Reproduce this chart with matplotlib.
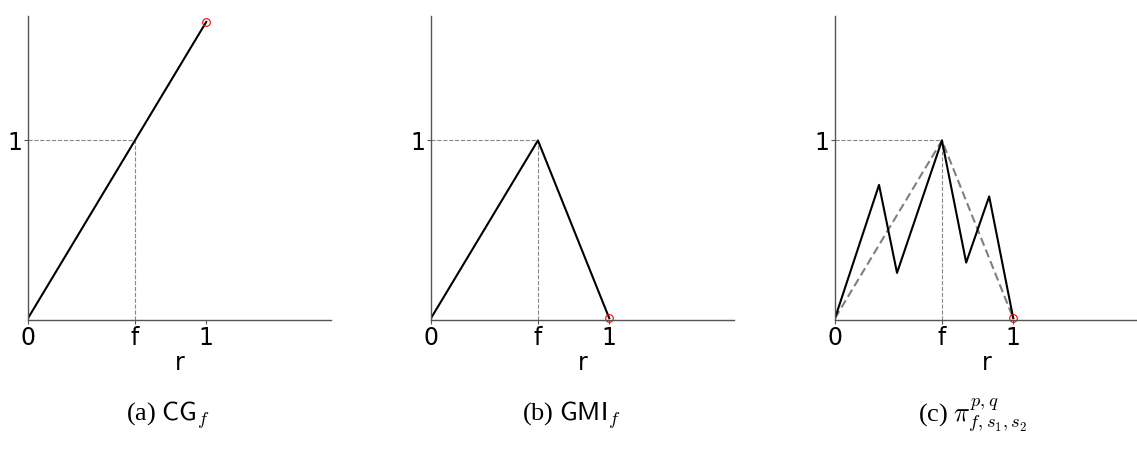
import matplotlib
matplotlib.use("Agg")
import matplotlib.pyplot as plt

plt.rcParams['mathtext.fontset'] = 'cm'

f = 0.6

# (a) CG_f : straight line up to 1/f at r = 1
cg_r = [0, 1]
cg_v = [0, 1 / f]

# (b) GMI_f : triangle peaking at f
gmi_r = [0, f, 1]
gmi_v = [0, 1, 0]

# (c) zig-zag pi curve and its triangle envelope
pi_r = [0, 0.247, 0.348, f, 0.736, 0.865, 1]
pi_v = [0, 0.75, 0.255, 1, 0.313, 0.685, 0]
env_r = [0, f, 1]
env_v = [0, 1, 0]

tick_pos = [0, f, 1]
tick_lab = ['0', 'f', '1']
captions = [r'(a) $\mathsf{CG}_f$', r'(b) $\mathsf{GMI}_f$', r'(c) $\pi^{p,q}_{f,s_1,s_2}$']

fig = plt.figure(figsize=(11.37, 4.53), dpi=100)
lefts = [28 / 1137, 431 / 1137, 835 / 1137]
axes = [fig.add_axes([l, 133 / 453, 303 / 1137, 304 / 453]) for l in lefts]

for i, ax in enumerate(axes):
    ax.set_xlim(0, 1.7)
    ax.set_ylim(-0.01, 1.7)
    for s in ['top', 'right']:
        ax.spines[s].set_visible(False)
    for s in ['left', 'bottom']:
        ax.spines[s].set_color('#555555')
        ax.spines[s].set_linewidth(1.0)
    ax.set_xticks(tick_pos)
    ax.set_xticklabels(tick_lab, fontsize=17)
    ax.set_yticks([1])
    ax.set_yticklabels(['1'], fontsize=17)
    ax.tick_params(length=3, color='#555555', pad=1)
    ax.set_xlabel('r', fontsize=17, labelpad=1)
    # guide lines to (f, 1)
    ax.plot([0, f], [1, 1], ls='--', color='#888888', lw=0.8)
    ax.plot([f, f], [-0.01, 1], ls='--', color='#888888', lw=0.8)

axes[0].plot(cg_r, cg_v, color='black', lw=1.5)
axes[0].plot([cg_r[-1]], [cg_v[-1]], 'o', mfc='none', mec='red', ms=5.5, mew=0.8)

axes[1].plot(gmi_r, gmi_v, color='black', lw=1.5)
axes[1].plot([1], [0], 'o', mfc='none', mec='red', ms=5.5, mew=0.8, clip_on=False)

axes[2].plot(env_r, env_v, ls='--', color='gray', lw=1.5, dashes=(4, 2))
axes[2].plot(pi_r, pi_v, color='black', lw=1.5)
axes[2].plot([1], [0], 'o', mfc='none', mec='red', ms=5.5, mew=0.8, clip_on=False)

cap_x = [168, 571, 973]
for x, c in zip(cap_x, captions):
    fig.text(x / 1137, 1 - 415 / 453, c, ha='center', va='center',
             fontsize=19, family='Liberation Serif')

fig.savefig('out.png', dpi=100)
